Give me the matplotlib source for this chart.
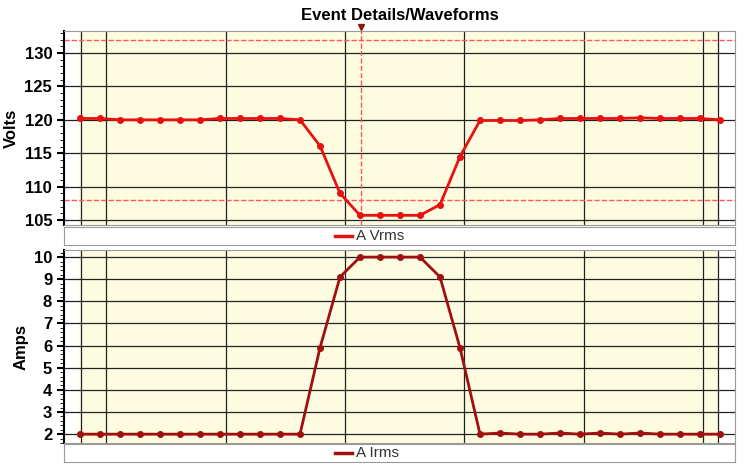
import numpy as np
import matplotlib.pyplot as plt

plt.rcParams['font.family'] = ['Liberation Sans', 'DejaVu Sans']

volts = [120.2, 120.2, 120.0, 120.0, 120.0, 120.0, 120.0, 120.2, 120.2, 120.2, 120.2,
         120.0, 116.1, 109.0, 105.7, 105.7, 105.7, 105.7, 107.3, 114.5, 119.9, 119.9,
         119.9, 120.0, 120.2, 120.2, 120.2, 120.2, 120.3, 120.2, 120.2, 120.2, 120.0]
amps = [2.0, 2.0, 2.0, 2.0, 2.0, 2.0, 2.0, 2.0, 2.0, 2.0, 2.0, 2.0, 5.9, 9.1, 10.0, 10.0,
        10.0, 10.0, 9.1, 5.9, 2.0, 2.05, 2.0, 2.0, 2.05, 2.0, 2.05, 2.0, 2.05, 2.0, 2.0,
        2.0, 2.0]
x = np.arange(len(volts))
grid_x = [0.05, 1.3, 7.3, 13.25, 19.2, 25.2, 31.15, 31.9]
limits_v = (132, 108)
cursor_x = 14.05

W, H = 749, 465
fig = plt.figure(figsize=(W / 100, H / 100), dpi=100)

def px_axes(x0, y0, x1, y1):
    return fig.add_axes([x0 / W, 1 - y1 / H, (x1 - x0) / W, (y1 - y0) / H])

def style(ax, ylim, yticks, ylabel):
    ax.set_xlim(-0.8, 32.75)
    ax.set_ylim(*ylim)
    ax.axvspan(-0.05, 31.9, color='#fdfce0', zorder=0)
    for g in grid_x:
        ax.axvline(g, color='#222222', lw=0.9, zorder=1)
    for t in yticks:
        ax.axhline(t, color='#222222', lw=0.9, zorder=1)
    ax.set_yticks(yticks)
    ax.set_yticklabels([str(t) for t in yticks], fontsize=12, fontweight='bold')
    ax.set_xticks([])
    ax.set_ylabel(ylabel, fontsize=12, fontweight='bold')
    ax.minorticks_on()
    ax.xaxis.set_minor_locator(plt.NullLocator())
    ax.tick_params(axis='y', which='major', length=5, width=1.5)
    ax.tick_params(axis='y', which='minor', length=3)
    for s in ax.spines.values():
        s.set_color('#999999')
    ax.spines['left'].set_color('black')
    ax.spines['left'].set_linewidth(1.5)

ax1 = px_axes(64, 31, 735, 225)
style(ax1, (104.25, 133.3), [105, 110, 115, 120, 125, 130], 'Volts')
for v in limits_v:
    ax1.axhline(v, color='#ff5555', ls='--', lw=1, zorder=2)
ax1.axvline(cursor_x, color='#ff5555', ls='--', lw=1, zorder=2)
ax1.plot(x, volts, color='#e81010', lw=2, marker='o', ms=4, zorder=3)
ax1.set_title('Event Details/Waveforms', fontsize=12, fontweight='bold', pad=8)
ax1.plot([cursor_x], [133.9], marker='v', color='#8b1a00', ms=5, clip_on=False)

ax2 = px_axes(64, 250, 735, 443)
style(ax2, (1.6, 10.32), list(range(2, 11)), 'Amps')
ax2.plot(x, amps, color='#a01010', lw=2, marker='o', ms=4, zorder=3)

# legend boxes
for (y0, y1, label, col) in [(227, 245, 'A Vrms', '#e81010'), (444, 462, 'A Irms', '#a01010')]:
    lg = px_axes(64, y0, 735, y1)
    lg.set_xticks([]); lg.set_yticks([])
    lg.set_xlim(0, W); lg.set_ylim(0, 1)
    for s in lg.spines.values():
        s.set_color('#999999')
    lg.plot([367 - 64, 385 - 64], [0.5, 0.5], color=col, lw=2.5)
    lg.text(390 - 64, 0.5, label, fontsize=11, va='center', color='#333333')

fig.savefig('out.png', dpi=100)
